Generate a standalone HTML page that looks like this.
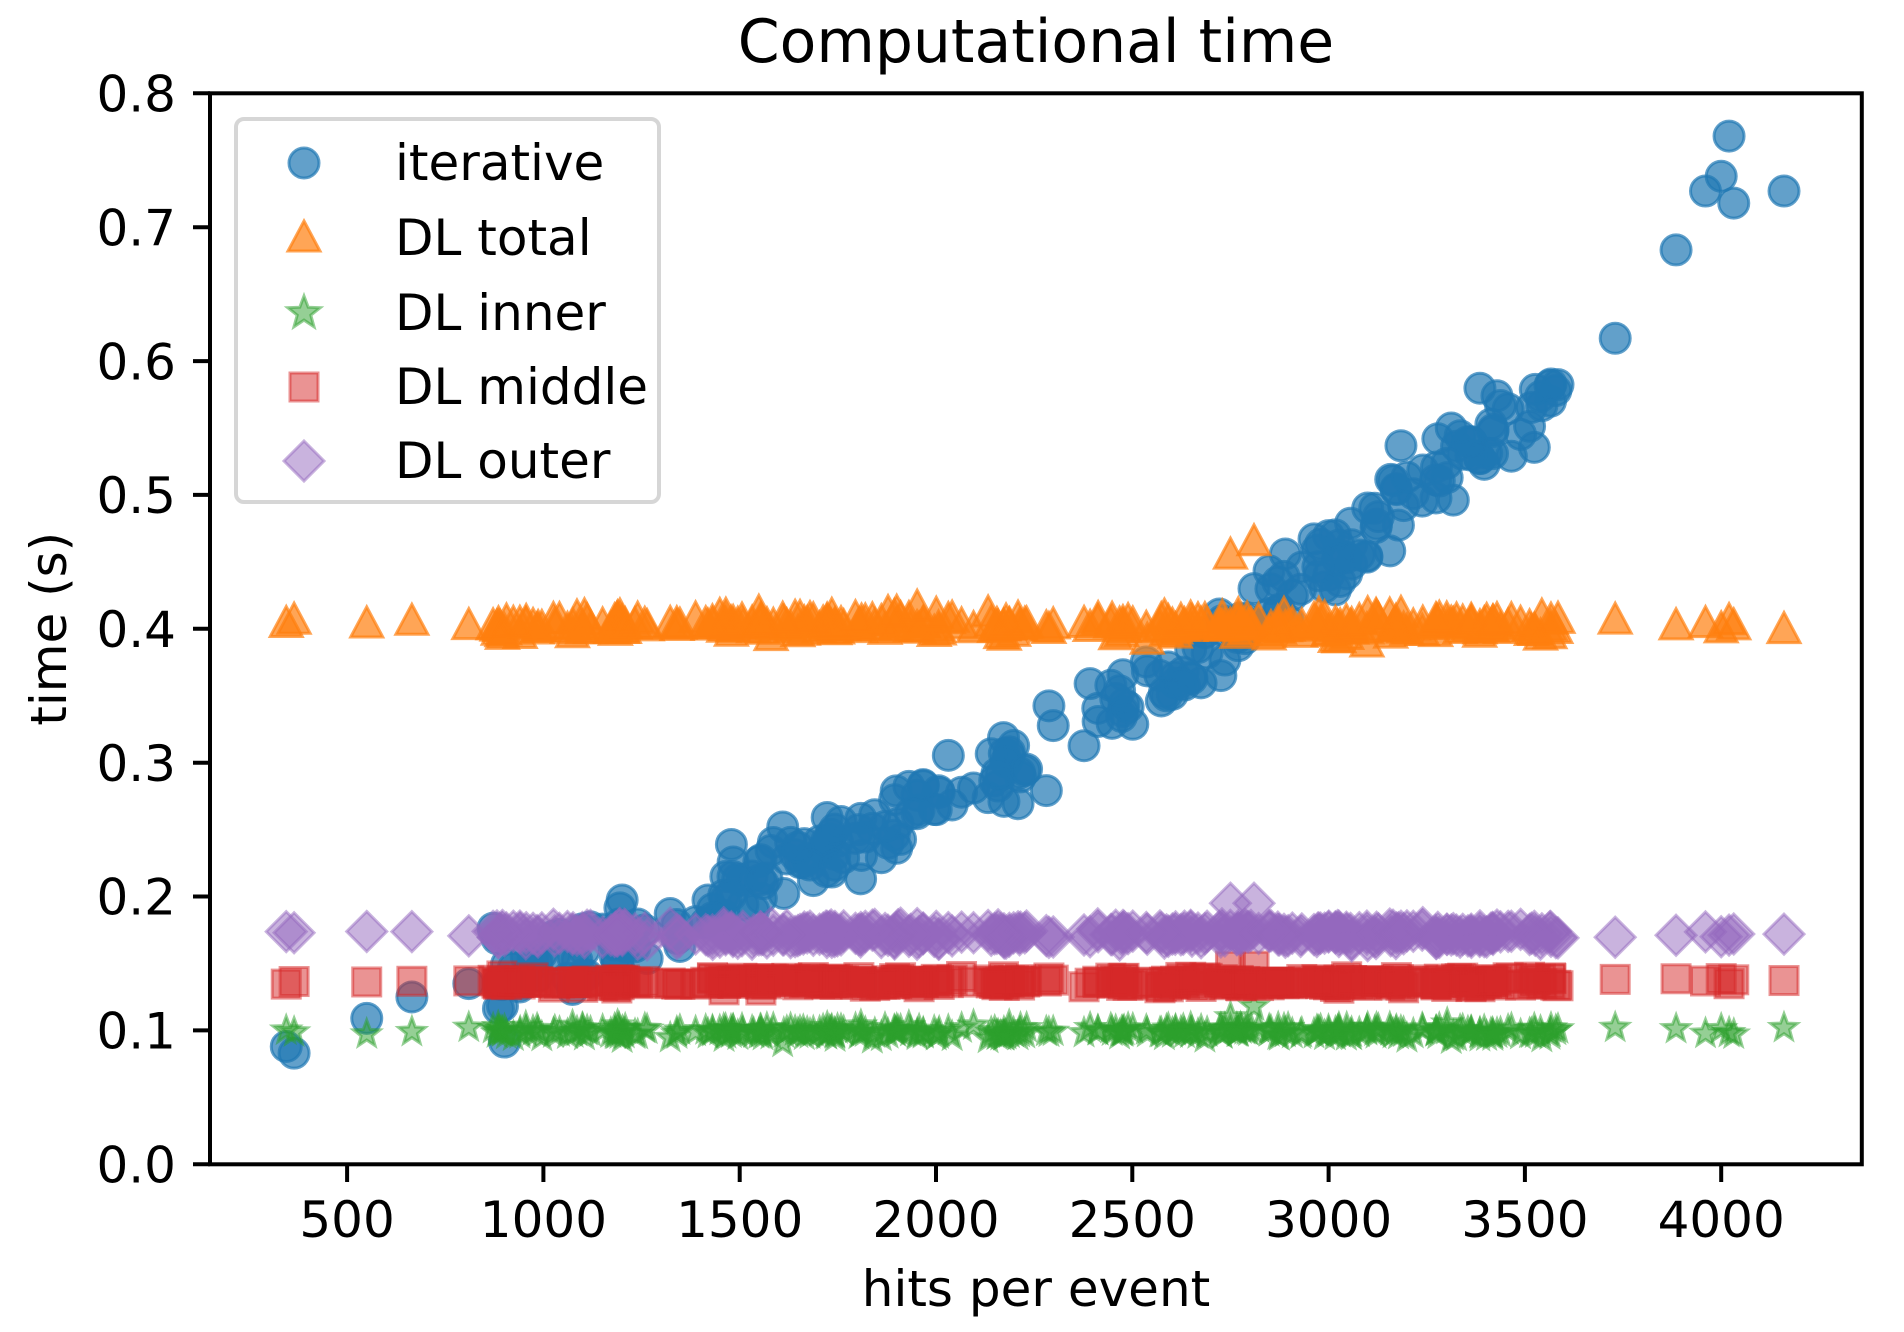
<!DOCTYPE html>
<html><head><meta charset="utf-8"><style>
html,body{margin:0;padding:0;background:#fff;}
svg text{font-family:"DejaVu Sans","Liberation Sans",sans-serif;fill:#000;}
</style></head><body>
<svg id="s" width="1904" height="1327" viewBox="0 0 1904 1327" xmlns="http://www.w3.org/2000/svg">
<rect width="1904" height="1327" fill="#fff"/>
<g id="pts"></g>
<rect x="210" y="93.3" width="1651.8" height="1071" fill="none" stroke="#000" stroke-width="4"/>
<g stroke="#000" stroke-width="4">
<line x1="193" x2="210" y1="1164.3" y2="1164.3"/><line x1="193" x2="210" y1="1030.4" y2="1030.4"/>
<line x1="193" x2="210" y1="896.5" y2="896.5"/><line x1="193" x2="210" y1="762.7" y2="762.7"/>
<line x1="193" x2="210" y1="628.8" y2="628.8"/><line x1="193" x2="210" y1="494.9" y2="494.9"/>
<line x1="193" x2="210" y1="361.1" y2="361.1"/><line x1="193" x2="210" y1="227.2" y2="227.2"/>
<line x1="193" x2="210" y1="93.3" y2="93.3"/>
<line x1="347.1" x2="347.1" y1="1164.3" y2="1182"/><line x1="543.4" x2="543.4" y1="1164.3" y2="1182"/>
<line x1="739.7" x2="739.7" y1="1164.3" y2="1182"/><line x1="936" x2="936" y1="1164.3" y2="1182"/>
<line x1="1132.3" x2="1132.3" y1="1164.3" y2="1182"/><line x1="1328.6" x2="1328.6" y1="1164.3" y2="1182"/>
<line x1="1524.9" x2="1524.9" y1="1164.3" y2="1182"/><line x1="1721.2" x2="1721.2" y1="1164.3" y2="1182"/>
</g>
<g font-size="50" text-anchor="end">
<text x="176" y="1182.5">0.0</text><text x="176" y="1048.6">0.1</text><text x="176" y="914.7">0.2</text>
<text x="176" y="780.9">0.3</text><text x="176" y="647">0.4</text><text x="176" y="513.1">0.5</text>
<text x="176" y="379.3">0.6</text><text x="176" y="245.4">0.7</text><text x="176" y="111.5">0.8</text>
</g>
<g font-size="50" text-anchor="middle">
<text x="347.1" y="1237">500</text><text x="543.4" y="1237">1000</text><text x="739.7" y="1237">1500</text>
<text x="936" y="1237">2000</text><text x="1132.3" y="1237">2500</text><text x="1328.6" y="1237">3000</text>
<text x="1524.9" y="1237">3500</text><text x="1721.2" y="1237">4000</text>
<text x="1036" y="1306">hits per event</text>
<text x="1036" y="62" font-size="60">Computational time</text>
<text transform="translate(66,628.8) rotate(-90)">time (s)</text>
</g>
<rect x="236" y="119" width="423" height="383" rx="8" fill="#fff" fill-opacity="0.8" stroke="#d6d6d6" stroke-width="4"/>
<g id="leg"></g>
<g font-size="50">
<text x="395" y="180">iterative</text><text x="395" y="255">DL total</text>
<text x="395" y="330">DL inner</text><text x="395" y="404">DL middle</text>
<text x="395" y="478">DL outer</text>
</g>
</svg>
<script>
var NS="http://www.w3.org/2000/svg";
function X(v){return 347.1+(v-500)*0.3926;}
function Y(t){return 1164.3-t*1338.75;}
var seed=12345;function rnd(){seed=(seed*1103515245+12345)%2147483648;return seed/2147483648;}
function gauss(){var u=rnd()||1e-9,v=rnd();return Math.sqrt(-2*Math.log(u))*Math.cos(2*Math.PI*v);}
var K=[[350,0.085],[550,0.108],[660,0.125],[900,0.14],[1100,0.155],[1300,0.175],[1500,0.205],[1750,0.24],[2000,0.27],[2250,0.31],[2500,0.35],[2750,0.395],[3000,0.45],[3250,0.515],[3500,0.56],[3600,0.59]];
function f(x){for(var i=0;i<K.length-1;i++){if(x<=K[i+1][0]){var a=K[i],b=K[i+1];return a[1]+(b[1]-a[1])*(x-a[0])/(b[0]-a[0]);}}return K[K.length-1][1];}
var pts=[[345,0.088],[365,0.083],[550,0.109],[665,0.125],[810,0.135],[3730,0.617],[3885,0.683],[3960,0.727],[4000,0.738],[4020,0.768],[4032,0.718],[4160,0.727],[2750,0.40],[2810,0.43]];
for(var i=0;i<300;i++){var x=870+rnd()*2720;pts.push([x,f(x)+gauss()*0.014]);}
var g=document.getElementById("pts"),h="";
function circ(x,y,op){return '<circle cx="'+x+'" cy="'+y+'" r="15" fill="#1f77b4" fill-opacity="0.7" stroke="#1f77b4" stroke-opacity="0.7" stroke-width="3"/>';}
function tri(x,y){return '<polygon points="'+x+','+(y-17)+' '+(x+16)+','+(y+13)+' '+(x-16)+','+(y+13)+'" fill="#ff7f0e" fill-opacity="0.7" stroke="#ff7f0e" stroke-opacity="0.7" stroke-width="3"/>';}
function star(x,y,r){var p=[];for(var k=0;k<10;k++){var a=-Math.PI/2+k*Math.PI/5,rr=k%2?r*0.42:r;p.push((x+rr*Math.cos(a)).toFixed(1)+','+(y+rr*Math.sin(a)).toFixed(1));}return '<polygon points="'+p.join(' ')+'" fill="#2ca02c" fill-opacity="0.5" stroke="#2ca02c" stroke-opacity="0.5" stroke-width="3"/>';}
function sq(x,y){return '<rect x="'+(x-14)+'" y="'+(y-14)+'" width="28" height="28" fill="#d62728" fill-opacity="0.5" stroke="#d62728" stroke-opacity="0.5" stroke-width="3"/>';}
function dia(x,y){return '<polygon points="'+x+','+(y-20)+' '+(x+20)+','+y+' '+x+','+(y+20)+' '+(x-20)+','+y+'" fill="#9467bd" fill-opacity="0.5" stroke="#9467bd" stroke-opacity="0.5" stroke-width="3"/>';}
pts.forEach(function(p){h+=circ(X(p[0]),Y(p[1]));});
pts.forEach(function(p){var t=0.403+gauss()*0.004;if(p[0]==2750)t=0.455;if(p[0]==2810)t=0.465;h+=tri(X(p[0]),Y(t));});
pts.forEach(function(p){var t=0.099+gauss()*0.002;if(p[0]==2750)t=0.11;if(p[0]==2810)t=0.118;h+=star(X(p[0]),Y(t),14);});
pts.forEach(function(p){var t=0.136+gauss()*0.002;if(p[0]==2750||p[0]==2810)t=0.148;h+=sq(X(p[0]),Y(t));});
pts.forEach(function(p){var t=0.172+gauss()*0.002;if(p[0]==2750||p[0]==2810)t=0.195;h+=dia(X(p[0]),Y(t));});
g.innerHTML=h;
document.getElementById("leg").innerHTML=circ(304,163)+tri(304,238)+star(304,313,17)+sq(304,387)+dia(304,461);
</script>
</body></html>
